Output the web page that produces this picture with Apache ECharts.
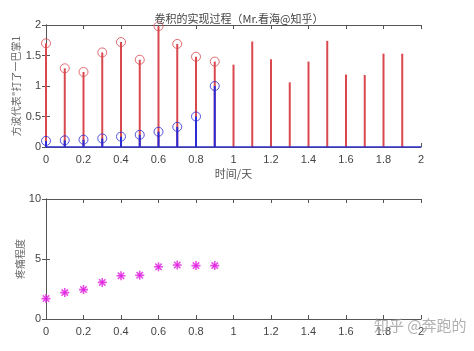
<!DOCTYPE html>
<html><head><meta charset="utf-8">
<script src="https://cdn.jsdelivr.net/npm/echarts@6/dist/echarts.min.js"></script>
<style>html,body{margin:0;padding:0;background:#fff}#c{width:474px;height:351px}</style>
</head><body><div id="c"></div>
<script>
var times = [0,0.1,0.2,0.3,0.4,0.5,0.6,0.7,0.8,0.9,1.0,1.1,1.2,1.3,1.4,1.5,1.6,1.7,1.8,1.9];
var redVals = [1.70,1.29,1.23,1.55,1.72,1.43,1.98,1.69,1.48,1.40,1.35,1.73,1.44,1.06,1.40,1.74,1.19,1.18,1.53,1.53];
var blueVals = [0.10,0.11,0.12,0.14,0.17,0.20,0.25,0.33,0.50,1.00,0,0,0,0,0,0,0,0,0,0];
var markedCount = 10;
var painVals = [1.7,2.2,2.45,3.05,3.6,3.65,4.35,4.5,4.45,4.45];
var xTicks = [0,0.2,0.4,0.6,0.8,1,1.2,1.4,1.6,1.8,2];
var yTicksTop = [0,0.5,1,1.5,2];
var yTicksBottom = [0,5,10];

var pairs = function(xs, ys){ return ys.map(function(v,i){ return [xs[i], v]; }); };
var red = pairs(times, redVals);
var blue = pairs(times, blueVals);
var pain = pairs(times, painVals);

var font = 'Liberation Sans';
var axisCol = '#555';
var lblCol = '#444';
function xAx(gi, show){
  return {type:'value', gridIndex:gi, min:xTicks[0], max:xTicks[xTicks.length-1], interval:0.2,
    axisLine:{show:true,onZero:false,lineStyle:{color:axisCol,width:1}},
    axisTick:{show:true,inside:true,length:4,lineStyle:{color:axisCol}},
    axisLabel:{show:show,color:lblCol,fontFamily:font,fontSize:11,margin:7},
    splitLine:{show:false}};
}
function yAx(gi, max, interval, show){
  return {type:'value', gridIndex:gi, min:0, max:max, interval:interval,
    axisLine:{show:true,lineStyle:{color:axisCol,width:1}},
    axisTick:{show:true,inside:true,length:4,lineStyle:{color:axisCol}},
    axisLabel:{show:show,color:lblCol,fontFamily:font,fontSize:11,margin:5},
    splitLine:{show:false}};
}
var xTop0 = xAx(0,false); xTop0.position='top';
var xTop1 = xAx(1,false); xTop1.position='top';
var yR0 = yAx(0,yTicksTop[yTicksTop.length-1],0.5,false); yR0.position='right';
var yR1 = yAx(1,yTicksBottom[yTicksBottom.length-1],5,false); yR1.position='right';
var xB0 = xAx(0,true); xB0.position='bottom';
var xB1 = xAx(1,true); xB1.position='bottom';
var yL0 = yAx(0,yTicksTop[yTicksTop.length-1],0.5,true); yL0.position='left';
var yL1 = yAx(1,yTicksBottom[yTicksBottom.length-1],5,true); yL1.position='left';
xB0.name='时间/天'; xB0.nameLocation='middle'; xB0.nameGap=21; xB0.nameMoveOverlap=false;
xB0.nameTextStyle={color:'#555',fontFamily:'Noto Sans CJK SC',fontSize:11};
yL0.name='方波代表"打了一巴掌1'; yL0.nameLocation='middle'; yL0.nameGap=25; yL0.nameMoveOverlap=false;
yL0.nameTextStyle={color:'#666',fontFamily:'Noto Sans CJK SC',fontSize:10};
yL1.name='疼痛程度'; yL1.nameLocation='middle'; yL1.nameGap=21; yL1.nameMoveOverlap=false;
yL1.nameTextStyle={color:'#666',fontFamily:'Noto Sans CJK SC',fontSize:10};

var plusPath = 'path://M-0.7,-4H0.7V-0.7H4V0.7H0.7V4H-0.7V0.7H-4V-0.7H-0.7Z';

var chart = echarts.init(document.getElementById('c'), null, {renderer:'canvas'});
chart.setOption({
  animation:false,
  backgroundColor:'#fff',
  title:{text:'卷积的实现过程（Mr.看海@知乎）', left:234, top:8, textAlign:'center',
    textStyle:{fontFamily:'Noto Sans CJK SC',fontSize:11,fontWeight:'normal',color:'#444'}},
  grid:[{left:46,right:53,top:25,height:122},{left:46,right:53,top:199,height:120}],
  xAxis:[xB0,xB1,xTop0,xTop1],
  yAxis:[yL0,yL1,yR0,yR1],
  series:[
    {type:'bar', xAxisIndex:0, yAxisIndex:0, data:red, barWidth:2, barGap:'-100%',
      itemStyle:{color:'#d9484f'}, z:2},
    {type:'bar', xAxisIndex:0, yAxisIndex:0, data:blue, barWidth:2, barGap:'-100%',
      itemStyle:{color:'#2b2bd6'}, z:3},
    {type:'line', xAxisIndex:0, yAxisIndex:0, data:[[xTicks[0],0],[xTicks[xTicks.length-1],0]],
      symbol:'none', lineStyle:{color:'#2b2bd6',width:1.5}, z:4},
    {type:'scatter', xAxisIndex:0, yAxisIndex:0, data:red.slice(0,markedCount),
      symbol:'circle', symbolSize:9, itemStyle:{color:'rgba(255,255,255,0)',borderColor:'#d9484f',borderWidth:1}, z:5},
    {type:'scatter', xAxisIndex:0, yAxisIndex:0, data:blue.slice(0,markedCount),
      symbol:'circle', symbolSize:9, itemStyle:{color:'rgba(255,255,255,0)',borderColor:'#2b2bd6',borderWidth:1}, z:5},
    {type:'scatter', xAxisIndex:1, yAxisIndex:1, data:pain, symbol:plusPath, symbolSize:9,
      itemStyle:{color:'#e020e0'}, z:5},
    {type:'scatter', xAxisIndex:1, yAxisIndex:1, data:pain, symbol:plusPath, symbolSize:9, symbolRotate:45,
      itemStyle:{color:'#e020e0'}, z:5}
  ],
  graphic:[{type:'text', left:374, top:318, z:100,
    style:{text:'知乎 @奔跑的', fill:'rgba(150,150,150,0.75)', font:'15px "Noto Sans CJK SC"'}}]
});
</script></body></html>
